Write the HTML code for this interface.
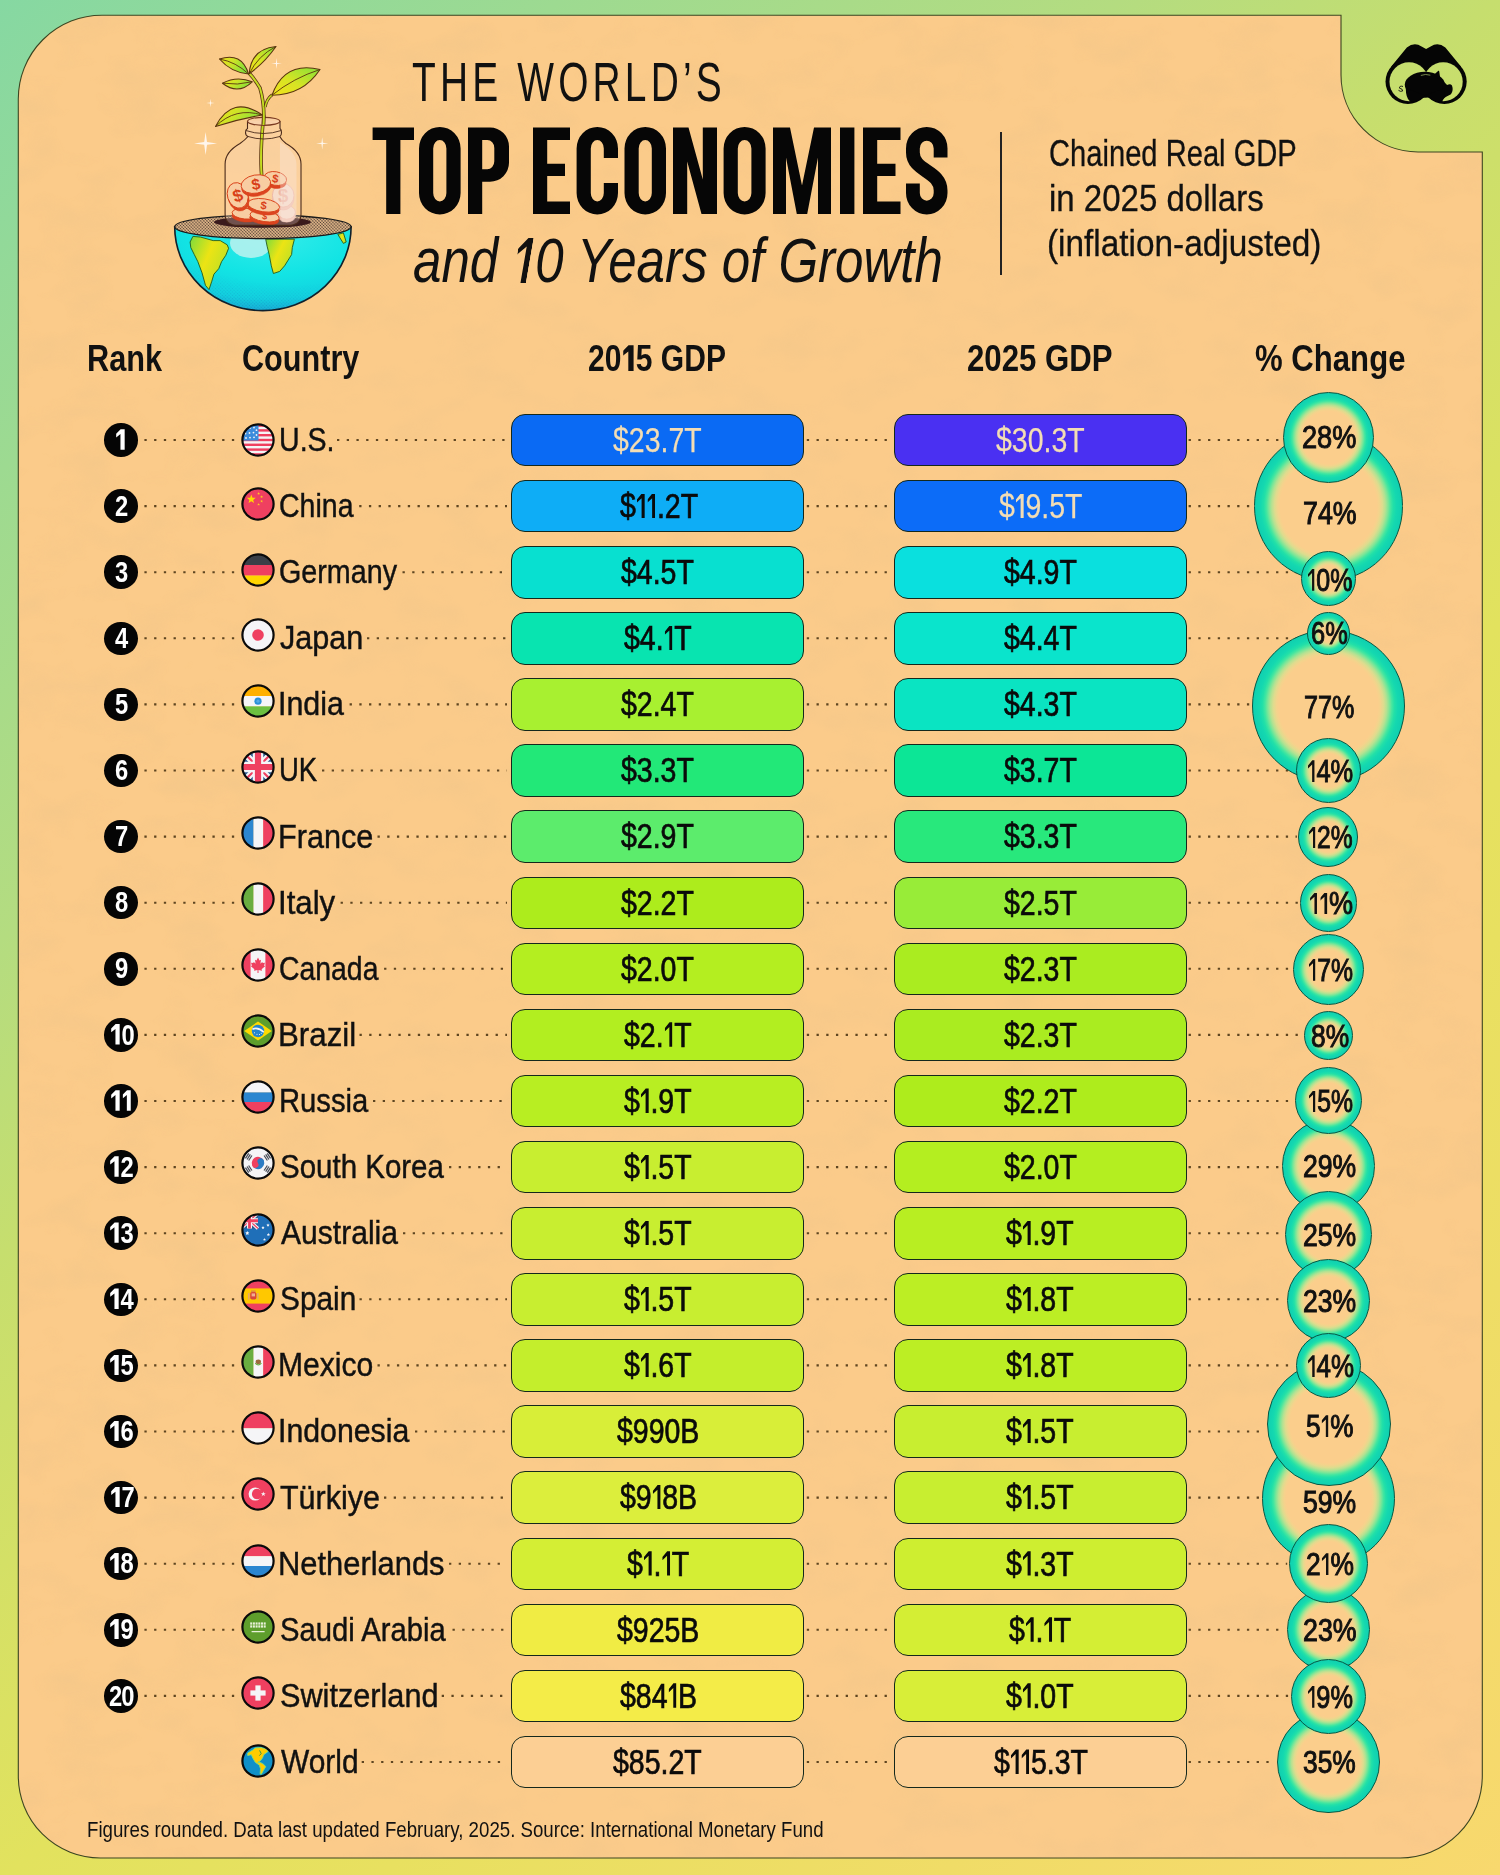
<!DOCTYPE html>
<html><head><meta charset="utf-8"><title>The World's Top Economies</title>
<style>
html,body{margin:0;padding:0;}
body{width:1500px;height:1875px;position:relative;overflow:hidden;font-family:"Liberation Sans", sans-serif;
background:linear-gradient(140deg,#86D8A2 0%,#B4DC80 30%,#C6DE6E 40%,#E2E25E 60%,#E8E060 70%,#F8D86E 100%);}
.t{position:absolute;white-space:nowrap;transform-origin:0 50%;}
.abs{position:absolute;}
.k,.kb{overflow:hidden;text-indent:-9em;font-style:normal;}
.k{display:inline-block;width:0.27em;height:0.715em;margin:0 0.06em 0 0.04em;background:currentColor;clip-path:polygon(62% 0,100% 0,100% 100%,60% 100%,60% 19%,0 37%,0 24%);}
.k.ki{transform:skewX(-12deg);transform-origin:0 100%;margin:0 0.19em 0 -0.01em;}
.kb{display:inline-block;width:0.36em;height:0.715em;margin:0 0.07em 0 0.05em;background:currentColor;clip-path:polygon(52% 0,100% 0,100% 100%,50% 100%,50% 24%,0 40%,0 22%);}
.bar{position:absolute;height:50.5px;width:291px;border:1.3px solid #14281c;border-radius:14px;box-sizing:content-box;}
.rk{position:absolute;width:33.6px;height:33.6px;border-radius:50%;background:#050505;}
.bub{position:absolute;border-radius:50%;border:1.3px solid #075844;box-sizing:border-box;
background:radial-gradient(circle closest-side,#FBCE8C 0%,#F8D08C 50%,#E4DA8C 60%,#A6E492 72%,#4EE49C 82%,#18DCB0 90%,#12D8B4 100%);}
</style></head><body>
<svg class="abs" style="left:0;top:0" width="1500" height="1875" viewBox="0 0 1500 1875">
<path d="M102 15.2 H1341 V75 A77 77 0 0 0 1418 152 H1482.3 V1776 A82 82 0 0 1 1400.3 1858 H100.3 A82 82 0 0 1 18.3 1776 V99 A83.7 83.8 0 0 1 102 15.2 Z" fill="#FBCB8A" stroke="#3a4420" stroke-width="1.1"/>
</svg>
<svg class="abs" style="left:0;top:0" width="1500" height="1875" viewBox="0 0 1500 1875">
<defs><filter id="pp" x="0" y="0" width="100%" height="100%"><feTurbulence type="fractalNoise" baseFrequency="0.018 0.03" numOctaves="3" seed="7"/><feColorMatrix type="matrix" values="0 0 0 0 0.72  0 0 0 0 0.5  0 0 0 0 0.25  0 0 0 1.6 -0.72"/></filter>
<clipPath id="pc"><path d="M102 15.2 H1341 V75 A77 77 0 0 0 1418 152 H1482.3 V1776 A82 82 0 0 1 1400.3 1858 H100.3 A82 82 0 0 1 18.3 1776 V99 A83.7 83.8 0 0 1 102 15.2 Z"/></clipPath></defs>
<rect x="0" y="0" width="1500" height="1875" filter="url(#pp)" clip-path="url(#pc)" opacity="0.22"/></svg>
<div class="abs" style="left:1000.3px;top:132px;width:1.6px;height:143px;background:#222"></div>
<svg class="abs" style="left:0;top:0" width="1500" height="1875" viewBox="0 0 1500 1875" fill="none" stroke="#5e4520" stroke-width="2.1" stroke-dasharray="2.3 7.42"><path d="M144.4 440.0 H236.0"/><path d="M337.0 440.0 H507.0"/><path d="M806.8 440.0 H891.0"/><path d="M1188.6 440.0 H1281.1"/><path d="M144.4 506.1 H236.0"/><path d="M359.2 506.1 H507.0"/><path d="M806.8 506.1 H891.0"/><path d="M1188.6 506.1 H1252.3"/><path d="M144.4 572.2 H236.0"/><path d="M402.5 572.2 H507.0"/><path d="M806.8 572.2 H891.0"/><path d="M1188.6 572.2 H1300.3"/><path d="M144.4 638.3 H236.0"/><path d="M367.0 638.3 H507.0"/><path d="M806.8 638.3 H891.0"/><path d="M1188.6 638.3 H1306.3"/><path d="M144.4 704.4 H236.0"/><path d="M349.6 704.4 H507.0"/><path d="M806.8 704.4 H891.0"/><path d="M1188.6 704.4 H1250.9"/><path d="M144.4 770.5 H236.0"/><path d="M322.0 770.5 H507.0"/><path d="M806.8 770.5 H891.0"/><path d="M1188.6 770.5 H1294.5"/><path d="M144.4 836.6 H236.0"/><path d="M377.5 836.6 H507.0"/><path d="M806.8 836.6 H891.0"/><path d="M1188.6 836.6 H1296.9"/><path d="M144.4 902.7 H236.0"/><path d="M340.6 902.7 H507.0"/><path d="M806.8 902.7 H891.0"/><path d="M1188.6 902.7 H1298.2"/><path d="M144.4 968.8 H236.0"/><path d="M384.1 968.8 H507.0"/><path d="M806.8 968.8 H891.0"/><path d="M1188.6 968.8 H1291.2"/><path d="M144.4 1034.9 H236.0"/><path d="M359.5 1034.9 H507.0"/><path d="M806.8 1034.9 H891.0"/><path d="M1188.6 1034.9 H1302.5"/><path d="M144.4 1101.0 H236.0"/><path d="M373.0 1101.0 H507.0"/><path d="M806.8 1101.0 H891.0"/><path d="M1188.6 1101.0 H1293.4"/><path d="M144.4 1167.1 H236.0"/><path d="M449.0 1167.1 H507.0"/><path d="M806.8 1167.1 H891.0"/><path d="M1188.6 1167.1 H1280.3"/><path d="M144.4 1233.2 H236.0"/><path d="M403.0 1233.2 H507.0"/><path d="M806.8 1233.2 H891.0"/><path d="M1188.6 1233.2 H1283.6"/><path d="M144.4 1299.3 H236.0"/><path d="M359.5 1299.3 H507.0"/><path d="M806.8 1299.3 H891.0"/><path d="M1188.6 1299.3 H1285.4"/><path d="M144.4 1365.4 H236.0"/><path d="M377.5 1365.4 H507.0"/><path d="M806.8 1365.4 H891.0"/><path d="M1188.6 1365.4 H1294.5"/><path d="M144.4 1431.5 H236.0"/><path d="M415.0 1431.5 H507.0"/><path d="M806.8 1431.5 H891.0"/><path d="M1188.6 1431.5 H1265.5"/><path d="M144.4 1497.6 H236.0"/><path d="M384.0 1497.6 H507.0"/><path d="M806.8 1497.6 H891.0"/><path d="M1188.6 1497.6 H1260.3"/><path d="M144.4 1563.7 H236.0"/><path d="M449.0 1563.7 H507.0"/><path d="M806.8 1563.7 H891.0"/><path d="M1188.6 1563.7 H1287.2"/><path d="M144.4 1629.8 H236.0"/><path d="M452.5 1629.8 H507.0"/><path d="M806.8 1629.8 H891.0"/><path d="M1188.6 1629.8 H1285.4"/><path d="M144.4 1695.9 H236.0"/><path d="M441.7 1695.9 H507.0"/><path d="M806.8 1695.9 H891.0"/><path d="M1188.6 1695.9 H1289.2"/><path d="M361.7 1762.0 H507.0"/><path d="M806.8 1762.0 H891.0"/><path d="M1188.6 1762.0 H1275.6"/></svg>
<div class="rk" style="left:104.4px;top:423.2px"></div>
<svg class="abs" style="left:240.8px;top:422.7px" width="34" height="34" viewBox="0 0 34 34"><defs><clipPath id="c0"><circle cx="17" cy="17" r="15.6"/></clipPath></defs><g clip-path="url(#c0)"><rect x="0" y="0" width="34" height="34" fill="#F5F5F7"/><rect x="0" y="1.4" width="34" height="2.4" fill="#EF4060"/><rect x="0" y="6.199999999999999" width="34" height="2.4" fill="#EF4060"/><rect x="0" y="11.0" width="34" height="2.4" fill="#EF4060"/><rect x="0" y="15.799999999999999" width="34" height="2.4" fill="#EF4060"/><rect x="0" y="20.599999999999998" width="34" height="2.4" fill="#EF4060"/><rect x="0" y="25.4" width="34" height="2.4" fill="#EF4060"/><rect x="0" y="30.199999999999996" width="34" height="2.4" fill="#EF4060"/><rect x="0" y="0" width="17.5" height="17.6" fill="#3C8CDC"/><circle cx="5" cy="6" r="0.9" fill="#F5F5F7"/><circle cx="9" cy="5" r="0.9" fill="#F5F5F7"/><circle cx="13" cy="4.6" r="0.9" fill="#F5F5F7"/><circle cx="4.5" cy="10.5" r="0.9" fill="#F5F5F7"/><circle cx="8.5" cy="10" r="0.9" fill="#F5F5F7"/><circle cx="12.5" cy="9.6" r="0.9" fill="#F5F5F7"/><circle cx="5" cy="15" r="0.9" fill="#F5F5F7"/><circle cx="9" cy="14.6" r="0.9" fill="#F5F5F7"/><circle cx="13" cy="14.3" r="0.9" fill="#F5F5F7"/><circle cx="15.5" cy="7.2" r="0.9" fill="#F5F5F7"/><circle cx="15.5" cy="12" r="0.9" fill="#F5F5F7"/></g><circle cx="17" cy="17" r="15.6" fill="none" stroke="#0a0a0a" stroke-width="2.2"/></svg>
<div class="bar" style="left:511px;top:413.8px;background:#0A6AF4"></div>
<div class="bar" style="left:893.5px;top:413.8px;background:#4A30F2"></div>
<div class="rk" style="left:104.4px;top:489.3px"></div>
<svg class="abs" style="left:240.8px;top:487.3px" width="34" height="34" viewBox="0 0 34 34"><defs><clipPath id="c1"><circle cx="17" cy="17" r="15.6"/></clipPath></defs><g clip-path="url(#c1)"><rect x="0" y="0" width="34" height="34" fill="#EF4060"/><polygon points="10.30,7.60 11.46,10.70 14.77,10.85 12.18,12.91 13.06,16.10 10.30,14.27 7.54,16.10 8.42,12.91 5.83,10.85 9.14,10.70" fill="#FFD800"/><polygon points="17.60,5.10 17.97,6.09 19.03,6.14 18.20,6.79 18.48,7.81 17.60,7.23 16.72,7.81 17.00,6.79 16.17,6.14 17.23,6.09" fill="#FFC820"/><polygon points="20.60,8.30 20.97,9.29 22.03,9.34 21.20,9.99 21.48,11.01 20.60,10.43 19.72,11.01 20.00,9.99 19.17,9.34 20.23,9.29" fill="#FFC820"/><polygon points="20.60,12.70 20.97,13.69 22.03,13.74 21.20,14.39 21.48,15.41 20.60,14.83 19.72,15.41 20.00,14.39 19.17,13.74 20.23,13.69" fill="#FFC820"/><polygon points="17.60,15.90 17.97,16.89 19.03,16.94 18.20,17.59 18.48,18.61 17.60,18.03 16.72,18.61 17.00,17.59 16.17,16.94 17.23,16.89" fill="#FFC820"/></g><circle cx="17" cy="17" r="15.6" fill="none" stroke="#0a0a0a" stroke-width="2.2"/></svg>
<div class="bar" style="left:511px;top:479.9px;background:#0EADF6"></div>
<div class="bar" style="left:893.5px;top:479.9px;background:#0C6CF8"></div>
<div class="rk" style="left:104.4px;top:555.4px"></div>
<svg class="abs" style="left:240.8px;top:552.7px" width="34" height="34" viewBox="0 0 34 34"><defs><clipPath id="c2"><circle cx="17" cy="17" r="15.6"/></clipPath></defs><g clip-path="url(#c2)"><rect x="0" y="0" width="34" height="12" fill="#3A3F47"/><rect x="0" y="12" width="34" height="10.6" fill="#EF4060"/><rect x="0" y="22.6" width="34" height="12" fill="#FFD500"/></g><circle cx="17" cy="17" r="15.6" fill="none" stroke="#0a0a0a" stroke-width="2.2"/></svg>
<div class="bar" style="left:511px;top:546.0px;background:#08E0D0"></div>
<div class="bar" style="left:893.5px;top:546.0px;background:#0AE0DE"></div>
<div class="rk" style="left:104.4px;top:621.5px"></div>
<svg class="abs" style="left:240.8px;top:618.0px" width="34" height="34" viewBox="0 0 34 34"><defs><clipPath id="c3"><circle cx="17" cy="17" r="15.6"/></clipPath></defs><g clip-path="url(#c3)"><rect x="0" y="0" width="34" height="34" fill="#F5F5F7"/><circle cx="17" cy="17" r="5.8" fill="#EF4060"/></g><circle cx="17" cy="17" r="15.6" fill="none" stroke="#0a0a0a" stroke-width="2.2"/></svg>
<div class="bar" style="left:511px;top:612.1px;background:#08E4B0"></div>
<div class="bar" style="left:893.5px;top:612.1px;background:#0AE4CC"></div>
<div class="rk" style="left:104.4px;top:687.6px"></div>
<svg class="abs" style="left:240.8px;top:684.0px" width="34" height="34" viewBox="0 0 34 34"><defs><clipPath id="c4"><circle cx="17" cy="17" r="15.6"/></clipPath></defs><g clip-path="url(#c4)"><rect x="0" y="0" width="34" height="12" fill="#FFB000"/><rect x="0" y="12" width="34" height="10.4" fill="#F5F5F7"/><rect x="0" y="22.4" width="34" height="12" fill="#6CC040"/><circle cx="17" cy="17.2" r="3.6" fill="#2890D8"/><circle cx="17" cy="17.2" r="1.6" fill="#55A8E4"/></g><circle cx="17" cy="17" r="15.6" fill="none" stroke="#0a0a0a" stroke-width="2.2"/></svg>
<div class="bar" style="left:511px;top:678.2px;background:#A8F030"></div>
<div class="bar" style="left:893.5px;top:678.2px;background:#0AE4C2"></div>
<div class="rk" style="left:104.4px;top:753.7px"></div>
<svg class="abs" style="left:240.8px;top:750.0px" width="34" height="34" viewBox="0 0 34 34"><defs><clipPath id="c5"><circle cx="17" cy="17" r="15.6"/></clipPath></defs><g clip-path="url(#c5)"><rect x="0" y="0" width="34" height="34" fill="#2C5C90"/><path d="M0 0L34 34M34 0L0 34" stroke="#F5F5F7" stroke-width="6.4"/><path d="M0 0L34 34M34 0L0 34" stroke="#EF4060" stroke-width="2.2"/><path d="M17 0V34M0 17H34" stroke="#F5F5F7" stroke-width="10.5"/><path d="M17 0V34M0 17H34" stroke="#EF4060" stroke-width="6.2"/></g><circle cx="17" cy="17" r="15.6" fill="none" stroke="#0a0a0a" stroke-width="2.2"/></svg>
<div class="bar" style="left:511px;top:744.3px;background:#22E878"></div>
<div class="bar" style="left:893.5px;top:744.3px;background:#0CE696"></div>
<div class="rk" style="left:104.4px;top:819.8px"></div>
<svg class="abs" style="left:240.8px;top:815.7px" width="34" height="34" viewBox="0 0 34 34"><defs><clipPath id="c6"><circle cx="17" cy="17" r="15.6"/></clipPath></defs><g clip-path="url(#c6)"><rect x="0" y="0" width="12.6" height="34" fill="#2B86D0"/><rect x="12.6" y="0" width="9.6" height="34" fill="#F5F5F7"/><rect x="22.2" y="0" width="12" height="34" fill="#EF4060"/></g><circle cx="17" cy="17" r="15.6" fill="none" stroke="#0a0a0a" stroke-width="2.2"/></svg>
<div class="bar" style="left:511px;top:810.4px;background:#5CEC6C"></div>
<div class="bar" style="left:893.5px;top:810.4px;background:#28E87C"></div>
<div class="rk" style="left:104.4px;top:885.9px"></div>
<svg class="abs" style="left:240.8px;top:881.6px" width="34" height="34" viewBox="0 0 34 34"><defs><clipPath id="c7"><circle cx="17" cy="17" r="15.6"/></clipPath></defs><g clip-path="url(#c7)"><rect x="0" y="0" width="12.6" height="34" fill="#6AAE40"/><rect x="12.6" y="0" width="9.6" height="34" fill="#F5F5F7"/><rect x="22.2" y="0" width="12" height="34" fill="#EF4060"/></g><circle cx="17" cy="17" r="15.6" fill="none" stroke="#0a0a0a" stroke-width="2.2"/></svg>
<div class="bar" style="left:511px;top:876.5px;background:#ADEC1C"></div>
<div class="bar" style="left:893.5px;top:876.5px;background:#98EC38"></div>
<div class="rk" style="left:104.4px;top:952.0px"></div>
<svg class="abs" style="left:240.8px;top:947.7px" width="34" height="34" viewBox="0 0 34 34"><defs><clipPath id="c8"><circle cx="17" cy="17" r="15.6"/></clipPath></defs><g clip-path="url(#c8)"><rect x="0" y="0" width="34" height="34" fill="#F5F5F7"/><rect x="0" y="0" width="9.6" height="34" fill="#EF4060"/><rect x="24.4" y="0" width="9.6" height="34" fill="#EF4060"/><path d="M17 9.6l1.5 2.9 1.5-.7-.6 4 1.8-1.9.6 1.2 2.2-.4-.9 2.9 1 .6-3.5 3 .5 1.5-3.6-.6V25h-1v-2.9l-3.6.6.5-1.5-3.5-3 1-.6-.9-2.9 2.2.4.6-1.2 1.8 1.9-.6-4 1.5.7z" fill="#EF4060"/></g><circle cx="17" cy="17" r="15.6" fill="none" stroke="#0a0a0a" stroke-width="2.2"/></svg>
<div class="bar" style="left:511px;top:942.6px;background:#B4EE20"></div>
<div class="bar" style="left:893.5px;top:942.6px;background:#AAEC20"></div>
<div class="rk" style="left:104.4px;top:1018.1px"></div>
<svg class="abs" style="left:240.8px;top:1013.7px" width="34" height="34" viewBox="0 0 34 34"><defs><clipPath id="c9"><circle cx="17" cy="17" r="15.6"/></clipPath></defs><g clip-path="url(#c9)"><rect x="0" y="0" width="34" height="34" fill="#5E9E2C"/><polygon points="3.2,17 17,7.6 30.8,17 17,26.4" fill="#FFDA00"/><circle cx="17" cy="17" r="6.2" fill="#2486CC"/><path d="M11.4 15.2Q17 12.6 22.8 18.2" stroke="#F5F5F7" stroke-width="1.5" fill="none"/><circle cx="13.5" cy="18.8" r="0.55" fill="#F5F5F7"/><circle cx="16" cy="20.2" r="0.55" fill="#F5F5F7"/><circle cx="18.5" cy="20.5" r="0.55" fill="#F5F5F7"/><circle cx="20.3" cy="19.3" r="0.55" fill="#F5F5F7"/></g><circle cx="17" cy="17" r="15.6" fill="none" stroke="#0a0a0a" stroke-width="2.2"/></svg>
<div class="bar" style="left:511px;top:1008.7px;background:#B2EE20"></div>
<div class="bar" style="left:893.5px;top:1008.7px;background:#AAEC20"></div>
<div class="rk" style="left:104.4px;top:1084.2px"></div>
<svg class="abs" style="left:240.8px;top:1079.7px" width="34" height="34" viewBox="0 0 34 34"><defs><clipPath id="c10"><circle cx="17" cy="17" r="15.6"/></clipPath></defs><g clip-path="url(#c10)"><rect x="0" y="0" width="34" height="12.4" fill="#F5F5F7"/><rect x="0" y="12.4" width="34" height="9.6" fill="#2B86D0"/><rect x="0" y="22" width="34" height="12" fill="#EF4060"/></g><circle cx="17" cy="17" r="15.6" fill="none" stroke="#0a0a0a" stroke-width="2.2"/></svg>
<div class="bar" style="left:511px;top:1074.8px;background:#B8EE22"></div>
<div class="bar" style="left:893.5px;top:1074.8px;background:#AEEC1C"></div>
<div class="rk" style="left:104.4px;top:1150.3px"></div>
<svg class="abs" style="left:240.8px;top:1145.7px" width="34" height="34" viewBox="0 0 34 34"><defs><clipPath id="c11"><circle cx="17" cy="17" r="15.6"/></clipPath></defs><g clip-path="url(#c11)"><rect x="0" y="0" width="34" height="34" fill="#F5F5F7"/><g transform="rotate(-33 17 17)"><path d="M10.8 17a6.2 6.2 0 0 1 12.4 0z" fill="#EF4060"/><path d="M10.8 17a6.2 6.2 0 0 0 12.4 0z" fill="#2C7CC4"/><circle cx="13.9" cy="17" r="3.1" fill="#EF4060"/><circle cx="20.1" cy="17" r="3.1" fill="#2C7CC4"/></g><g transform="rotate(33 17 17)"><path d="M26.2 14V20M28.1 14V20M30 14V20" stroke="#4A4E58" stroke-width="1.25"/></g><g transform="rotate(147 17 17)"><path d="M26.2 14V20M28.1 14V20M30 14V20" stroke="#4A4E58" stroke-width="1.25"/></g><g transform="rotate(213 17 17)"><path d="M26.2 14V20M28.1 14V20M30 14V20" stroke="#4A4E58" stroke-width="1.25"/></g><g transform="rotate(327 17 17)"><path d="M26.2 14V20M28.1 14V20M30 14V20" stroke="#4A4E58" stroke-width="1.25"/></g></g><circle cx="17" cy="17" r="15.6" fill="none" stroke="#0a0a0a" stroke-width="2.2"/></svg>
<div class="bar" style="left:511px;top:1140.9px;background:#C8EE30"></div>
<div class="bar" style="left:893.5px;top:1140.9px;background:#B4EE20"></div>
<div class="rk" style="left:104.4px;top:1216.4px"></div>
<svg class="abs" style="left:240.8px;top:1212.7px" width="34" height="34" viewBox="0 0 34 34"><defs><clipPath id="c12"><circle cx="17" cy="17" r="15.6"/></clipPath></defs><g clip-path="url(#c12)"><rect x="0" y="0" width="34" height="34" fill="#1F6FB8"/><g><rect x="0" y="0" width="17" height="15.5" fill="#2C5C90"/><path d="M0 0L17 15.5M17 0L0 15.5" stroke="#F5F5F7" stroke-width="3.4"/><path d="M0 0L17 15.5M17 0L0 15.5" stroke="#EF4060" stroke-width="1.2"/><path d="M8.5 0V15.5M0 7.75H17" stroke="#F5F5F7" stroke-width="5"/><path d="M8.5 0V15.5M0 7.75H17" stroke="#EF4060" stroke-width="2.8"/></g><polygon points="6.30,18.10 6.92,19.35 8.30,19.55 7.30,20.52 7.53,21.90 6.30,21.25 5.07,21.90 5.30,20.52 4.30,19.55 5.68,19.35" fill="#F5F5F7"/><polygon points="22.00,12.90 22.50,13.91 23.62,14.07 22.81,14.86 23.00,15.98 22.00,15.45 21.00,15.98 21.19,14.86 20.38,14.07 21.50,13.91" fill="#F5F5F7"/><polygon points="27.00,10.50 27.50,11.51 28.62,11.67 27.81,12.46 28.00,13.58 27.00,13.05 26.00,13.58 26.19,12.46 25.38,11.67 26.50,11.51" fill="#F5F5F7"/><polygon points="27.40,19.90 27.90,20.91 29.02,21.07 28.21,21.86 28.40,22.98 27.40,22.45 26.40,22.98 26.59,21.86 25.78,21.07 26.90,20.91" fill="#F5F5F7"/><polygon points="23.50,25.00 23.94,25.89 24.93,26.04 24.21,26.73 24.38,27.71 23.50,27.25 22.62,27.71 22.79,26.73 22.07,26.04 23.06,25.89" fill="#F5F5F7"/></g><circle cx="17" cy="17" r="15.6" fill="none" stroke="#0a0a0a" stroke-width="2.2"/></svg>
<div class="bar" style="left:511px;top:1207.0px;background:#C8EE30"></div>
<div class="bar" style="left:893.5px;top:1207.0px;background:#B8EE22"></div>
<div class="rk" style="left:104.4px;top:1282.5px"></div>
<svg class="abs" style="left:240.8px;top:1278.9px" width="34" height="34" viewBox="0 0 34 34"><defs><clipPath id="c13"><circle cx="17" cy="17" r="15.6"/></clipPath></defs><g clip-path="url(#c13)"><rect x="0" y="0" width="34" height="34" fill="#FFC800"/><rect x="0" y="0" width="34" height="9.4" fill="#EF4060"/><rect x="0" y="24.6" width="34" height="10" fill="#EF4060"/><rect x="9.2" y="13" width="6.2" height="7.6" rx="1.8" fill="#D8443C"/><rect x="10.6" y="14.4" width="3.4" height="3" fill="#F0B090"/><rect x="7" y="14" width="1.5" height="6.6" fill="#E8A868"/><rect x="16.1" y="14" width="1.5" height="6.6" fill="#E8A868"/><rect x="10" y="11.4" width="4.6" height="1.7" fill="#E0903C"/></g><circle cx="17" cy="17" r="15.6" fill="none" stroke="#0a0a0a" stroke-width="2.2"/></svg>
<div class="bar" style="left:511px;top:1273.1px;background:#C8EE30"></div>
<div class="bar" style="left:893.5px;top:1273.1px;background:#BCEE24"></div>
<div class="rk" style="left:104.4px;top:1348.6px"></div>
<svg class="abs" style="left:240.8px;top:1345.0px" width="34" height="34" viewBox="0 0 34 34"><defs><clipPath id="c14"><circle cx="17" cy="17" r="15.6"/></clipPath></defs><g clip-path="url(#c14)"><rect x="0" y="0" width="12.6" height="34" fill="#6AAE40"/><rect x="12.6" y="0" width="9.6" height="34" fill="#F5F5F7"/><rect x="22.2" y="0" width="12" height="34" fill="#EF4060"/><ellipse cx="17.3" cy="16.8" rx="2.7" ry="2.3" fill="#9A6A3C"/><path d="M14.2 18.2Q17.3 21.6 20.4 18.2" stroke="#6AAE40" stroke-width="1.1" fill="none"/></g><circle cx="17" cy="17" r="15.6" fill="none" stroke="#0a0a0a" stroke-width="2.2"/></svg>
<div class="bar" style="left:511px;top:1339.2px;background:#C4EE2C"></div>
<div class="bar" style="left:893.5px;top:1339.2px;background:#BCEE24"></div>
<div class="rk" style="left:104.4px;top:1414.7px"></div>
<svg class="abs" style="left:240.8px;top:1411.0px" width="34" height="34" viewBox="0 0 34 34"><defs><clipPath id="c15"><circle cx="17" cy="17" r="15.6"/></clipPath></defs><g clip-path="url(#c15)"><rect x="0" y="0" width="34" height="17.3" fill="#EF4060"/><rect x="0" y="17.3" width="34" height="17" fill="#F5F5F7"/></g><circle cx="17" cy="17" r="15.6" fill="none" stroke="#0a0a0a" stroke-width="2.2"/></svg>
<div class="bar" style="left:511px;top:1405.3px;background:#D8EE38"></div>
<div class="bar" style="left:893.5px;top:1405.3px;background:#C8EE30"></div>
<div class="rk" style="left:104.4px;top:1480.8px"></div>
<svg class="abs" style="left:240.8px;top:1477.4px" width="34" height="34" viewBox="0 0 34 34"><defs><clipPath id="c16"><circle cx="17" cy="17" r="15.6"/></clipPath></defs><g clip-path="url(#c16)"><rect x="0" y="0" width="34" height="34" fill="#EF4060"/><circle cx="14.2" cy="17" r="6.6" fill="#F5F5F7"/><circle cx="16.2" cy="17" r="5.3" fill="#EF4060"/><polygon points="24.77,16.20 23.30,17.32 23.83,19.10 22.30,18.05 20.77,19.10 21.30,17.32 19.83,16.20 21.68,16.15 22.30,14.40 22.92,16.15" fill="#F5F5F7"/></g><circle cx="17" cy="17" r="15.6" fill="none" stroke="#0a0a0a" stroke-width="2.2"/></svg>
<div class="bar" style="left:511px;top:1471.4px;background:#DCEE3C"></div>
<div class="bar" style="left:893.5px;top:1471.4px;background:#C8EE30"></div>
<div class="rk" style="left:104.4px;top:1546.9px"></div>
<svg class="abs" style="left:240.8px;top:1544.3px" width="34" height="34" viewBox="0 0 34 34"><defs><clipPath id="c17"><circle cx="17" cy="17" r="15.6"/></clipPath></defs><g clip-path="url(#c17)"><rect x="0" y="0" width="34" height="12.2" fill="#EF4060"/><rect x="0" y="12.2" width="34" height="9.8" fill="#F5F5F7"/><rect x="0" y="22" width="34" height="12" fill="#2B86D0"/></g><circle cx="17" cy="17" r="15.6" fill="none" stroke="#0a0a0a" stroke-width="2.2"/></svg>
<div class="bar" style="left:511px;top:1537.5px;background:#D4EE34"></div>
<div class="bar" style="left:893.5px;top:1537.5px;background:#CEEE30"></div>
<div class="rk" style="left:104.4px;top:1613.0px"></div>
<svg class="abs" style="left:240.8px;top:1609.8px" width="34" height="34" viewBox="0 0 34 34"><defs><clipPath id="c18"><circle cx="17" cy="17" r="15.6"/></clipPath></defs><g clip-path="url(#c18)"><rect x="0" y="0" width="34" height="34" fill="#5E9E2C"/><rect x="9.2" y="12.4" width="2.0" height="5.2" fill="#E8F0D8"/><rect x="11.899999999999999" y="12.4" width="2.0" height="5.2" fill="#E8F0D8"/><rect x="14.6" y="12.4" width="2.0" height="5.2" fill="#E8F0D8"/><rect x="17.3" y="12.4" width="2.0" height="5.2" fill="#E8F0D8"/><rect x="20.0" y="12.4" width="2.0" height="5.2" fill="#E8F0D8"/><rect x="22.7" y="12.4" width="2.0" height="5.2" fill="#E8F0D8"/><path d="M9 15H25.6" stroke="#5E9E2C" stroke-width="0.7"/><path d="M10.6 21.6H23.6" stroke="#E8F0D8" stroke-width="1.4"/></g><circle cx="17" cy="17" r="15.6" fill="none" stroke="#0a0a0a" stroke-width="2.2"/></svg>
<div class="bar" style="left:511px;top:1603.6px;background:#F0EC44"></div>
<div class="bar" style="left:893.5px;top:1603.6px;background:#D4EE34"></div>
<div class="rk" style="left:104.4px;top:1679.1px"></div>
<svg class="abs" style="left:240.8px;top:1676.3px" width="34" height="34" viewBox="0 0 34 34"><defs><clipPath id="c19"><circle cx="17" cy="17" r="15.6"/></clipPath></defs><g clip-path="url(#c19)"><rect x="0" y="0" width="34" height="34" fill="#EF4060"/><rect x="14.4" y="9.4" width="5.2" height="15.2" fill="#F5F5F7"/><rect x="9.4" y="14.4" width="15.2" height="5.2" fill="#F5F5F7"/></g><circle cx="17" cy="17" r="15.6" fill="none" stroke="#0a0a0a" stroke-width="2.2"/></svg>
<div class="bar" style="left:511px;top:1669.7px;background:#F4EC48"></div>
<div class="bar" style="left:893.5px;top:1669.7px;background:#D8EE38"></div>
<svg class="abs" style="left:240.8px;top:1743.5px" width="34" height="34" viewBox="0 0 34 34"><defs><clipPath id="c20"><circle cx="17" cy="17" r="15.6"/></clipPath></defs><g clip-path="url(#c20)"><rect x="0" y="0" width="34" height="34" fill="#1090C8"/><polygon points="6.7,9.1 11.9,5.9 14.3,3.9 19.9,3.5 25.5,5.1 27.1,7.5 22.7,10.7 21.5,13.9 19.1,17.1 16.7,18.3 19.9,18.7 23.1,20.7 24.7,22.7 22.3,26.7 20.3,30.3 19.1,29.9 19.5,24.7 18.3,21.1 14.3,18.3 11.9,14.3 10.3,10.7 6.7,11.5" fill="#FFCC00" stroke="#7CE080" stroke-width="0.9" stroke-linejoin="round"/><path d="M18.6 6.4l1.6 3.2-1.8 2" stroke="#3C9A4C" stroke-width="1" fill="none"/></g><circle cx="17" cy="17" r="15.6" fill="none" stroke="#0a0a0a" stroke-width="2.2"/></svg>
<div class="bar" style="left:511px;top:1735.8px;background:#FCCF94"></div>
<div class="bar" style="left:893.5px;top:1735.8px;background:#FCCF94"></div>
<div class="bub" style="left:1252.3px;top:629.8px;width:152.3px;height:152.3px;background:radial-gradient(circle closest-side,#FBCE8C 0%,#FBCE8C 66.0%,#F4D38C 69.4%,#DEDC8E 73.5%,#B4E292 77.6%,#7CE698 81.3%,#44E6A0 84.7%,#22E0A8 88.1%,#14D8B0 92.5%,#10D0B0 100%)"></div>
<div class="bub" style="left:1253.8px;top:431.3px;width:149.3px;height:149.3px;background:radial-gradient(circle closest-side,#FBCE8C 0%,#FBCE8C 65.8%,#F4D38C 69.2%,#DEDC8E 73.3%,#B4E292 77.4%,#7CE698 81.2%,#44E6A0 84.6%,#22E0A8 88.0%,#14D8B0 92.5%,#10D0B0 100%)"></div>
<div class="bub" style="left:1261.8px;top:1431.8px;width:133.3px;height:133.3px;background:radial-gradient(circle closest-side,#FBCE8C 0%,#FBCE8C 64.5%,#F4D38C 68.1%,#DEDC8E 72.3%,#B4E292 76.6%,#7CE698 80.5%,#44E6A0 84.0%,#22E0A8 87.6%,#14D8B0 92.2%,#10D0B0 100%)"></div>
<div class="bub" style="left:1266.5px;top:1362.0px;width:124.0px;height:124.0px;background:radial-gradient(circle closest-side,#FBCE8C 0%,#FBCE8C 63.6%,#F4D38C 67.2%,#DEDC8E 71.6%,#B4E292 76.0%,#7CE698 80.0%,#44E6A0 83.6%,#22E0A8 87.3%,#14D8B0 92.0%,#10D0B0 100%)"></div>
<div class="bub" style="left:1277.1px;top:1710.6px;width:102.7px;height:102.7px;background:radial-gradient(circle closest-side,#FBCE8C 0%,#FBCE8C 60.9%,#F4D38C 64.8%,#DEDC8E 69.5%,#B4E292 74.2%,#7CE698 78.5%,#44E6A0 82.4%,#22E0A8 86.3%,#14D8B0 91.4%,#10D0B0 100%)"></div>
<div class="bub" style="left:1281.8px;top:1119.3px;width:93.5px;height:93.5px;background:radial-gradient(circle closest-side,#FBCE8C 0%,#FBCE8C 59.4%,#F4D38C 63.4%,#DEDC8E 68.3%,#B4E292 73.2%,#7CE698 77.7%,#44E6A0 81.7%,#22E0A8 85.8%,#14D8B0 91.1%,#10D0B0 100%)"></div>
<div class="bub" style="left:1282.6px;top:391.6px;width:91.9px;height:91.9px;background:radial-gradient(circle closest-side,#FBCE8C 0%,#FBCE8C 59.1%,#F4D38C 63.2%,#DEDC8E 68.1%,#B4E292 73.0%,#7CE698 77.5%,#44E6A0 81.6%,#22E0A8 85.7%,#14D8B0 91.0%,#10D0B0 100%)"></div>
<div class="bub" style="left:1285.1px;top:1190.8px;width:86.8px;height:86.8px;background:radial-gradient(circle closest-side,#FBCE8C 0%,#FBCE8C 58.1%,#F4D38C 62.3%,#DEDC8E 67.3%,#B4E292 72.3%,#7CE698 76.9%,#44E6A0 81.1%,#22E0A8 85.3%,#14D8B0 90.8%,#10D0B0 100%)"></div>
<div class="bub" style="left:1286.9px;top:1258.6px;width:83.3px;height:83.3px;background:radial-gradient(circle closest-side,#FBCE8C 0%,#FBCE8C 57.3%,#F4D38C 61.6%,#DEDC8E 66.7%,#B4E292 71.8%,#7CE698 76.5%,#44E6A0 80.8%,#22E0A8 85.0%,#14D8B0 90.6%,#10D0B0 100%)"></div>
<div class="bub" style="left:1286.9px;top:1587.9px;width:83.3px;height:83.3px;background:radial-gradient(circle closest-side,#FBCE8C 0%,#FBCE8C 57.3%,#F4D38C 61.6%,#DEDC8E 66.7%,#B4E292 71.8%,#7CE698 76.5%,#44E6A0 80.8%,#22E0A8 85.0%,#14D8B0 90.6%,#10D0B0 100%)"></div>
<div class="bub" style="left:1288.7px;top:1523.7px;width:79.6px;height:79.6px;background:radial-gradient(circle closest-side,#FBCE8C 0%,#FBCE8C 56.4%,#F4D38C 60.7%,#DEDC8E 66.0%,#B4E292 71.2%,#7CE698 76.0%,#44E6A0 80.4%,#22E0A8 84.7%,#14D8B0 90.4%,#10D0B0 100%)"></div>
<div class="bub" style="left:1290.7px;top:1658.5px;width:75.7px;height:75.7px;background:radial-gradient(circle closest-side,#FBCE8C 0%,#FBCE8C 55.4%,#F4D38C 59.8%,#DEDC8E 65.2%,#B4E292 70.5%,#7CE698 75.4%,#44E6A0 79.9%,#22E0A8 84.4%,#14D8B0 90.2%,#10D0B0 100%)"></div>
<div class="bub" style="left:1292.7px;top:933.6px;width:71.6px;height:71.6px;background:radial-gradient(circle closest-side,#FBCE8C 0%,#FBCE8C 54.1%,#F4D38C 58.7%,#DEDC8E 64.2%,#B4E292 69.7%,#7CE698 74.8%,#44E6A0 79.4%,#22E0A8 84.0%,#14D8B0 89.9%,#10D0B0 100%)"></div>
<div class="bub" style="left:1294.9px;top:1067.3px;width:67.2px;height:67.2px;background:radial-gradient(circle closest-side,#FBCE8C 0%,#FBCE8C 52.7%,#F4D38C 57.4%,#DEDC8E 63.1%,#B4E292 68.8%,#7CE698 74.0%,#44E6A0 78.7%,#22E0A8 83.4%,#14D8B0 89.6%,#10D0B0 100%)"></div>
<div class="bub" style="left:1296.0px;top:738.2px;width:65.0px;height:65.0px;background:radial-gradient(circle closest-side,#FBCE8C 0%,#FBCE8C 51.9%,#F4D38C 56.7%,#DEDC8E 62.5%,#B4E292 68.2%,#7CE698 73.5%,#44E6A0 78.3%,#22E0A8 83.2%,#14D8B0 89.4%,#10D0B0 100%)"></div>
<div class="bub" style="left:1296.0px;top:1333.2px;width:65.0px;height:65.0px;background:radial-gradient(circle closest-side,#FBCE8C 0%,#FBCE8C 51.9%,#F4D38C 56.7%,#DEDC8E 62.5%,#B4E292 68.2%,#7CE698 73.5%,#44E6A0 78.3%,#22E0A8 83.2%,#14D8B0 89.4%,#10D0B0 100%)"></div>
<div class="bub" style="left:1298.4px;top:806.8px;width:60.1px;height:60.1px;background:radial-gradient(circle closest-side,#FBCE8C 0%,#FBCE8C 49.9%,#F4D38C 54.9%,#DEDC8E 60.9%,#B4E292 66.9%,#7CE698 72.4%,#44E6A0 77.5%,#22E0A8 82.5%,#14D8B0 89.0%,#10D0B0 100%)"></div>
<div class="bub" style="left:1299.7px;top:874.2px;width:57.6px;height:57.6px;background:radial-gradient(circle closest-side,#FBCE8C 0%,#FBCE8C 48.7%,#F4D38C 53.8%,#DEDC8E 60.0%,#B4E292 66.1%,#7CE698 71.8%,#44E6A0 76.9%,#22E0A8 82.0%,#14D8B0 88.7%,#10D0B0 100%)"></div>
<div class="bub" style="left:1301.1px;top:551.3px;width:54.9px;height:54.9px;background:radial-gradient(circle closest-side,#FBCE8C 0%,#FBCE8C 47.4%,#F4D38C 52.6%,#DEDC8E 58.9%,#B4E292 65.3%,#7CE698 71.0%,#44E6A0 76.3%,#22E0A8 81.6%,#14D8B0 88.4%,#10D0B0 100%)"></div>
<div class="bub" style="left:1303.9px;top:1010.6px;width:49.1px;height:49.1px;background:radial-gradient(circle closest-side,#FBCE8C 0%,#FBCE8C 43.9%,#F4D38C 49.5%,#DEDC8E 56.3%,#B4E292 63.0%,#7CE698 69.2%,#44E6A0 74.8%,#22E0A8 80.4%,#14D8B0 87.7%,#10D0B0 100%)"></div>
<div class="bub" style="left:1307.2px;top:612.1px;width:42.5px;height:42.5px;background:radial-gradient(circle closest-side,#FBCE8C 0%,#FBCE8C 38.9%,#F4D38C 45.0%,#DEDC8E 52.3%,#B4E292 59.7%,#7CE698 66.4%,#44E6A0 72.5%,#22E0A8 78.6%,#14D8B0 86.6%,#10D0B0 100%)"></div>
<span class="t " style="left:411.69px;top:53.95px;font-size:55.81px;line-height:55.81px;transform:scaleX(0.6968);color:#111;letter-spacing:6px;">THE WORLD’S</span>
<span class="t " style="left:413.10px;top:229.45px;font-size:62.79px;line-height:62.79px;transform:scaleX(0.8130);color:#111;font-style:italic;">and <i class="k ki">1</i>0 Years of Growth</span>
<span class="t " style="left:1049.33px;top:135.92px;font-size:36.48px;line-height:36.48px;transform:scaleX(0.7990);color:#111;-webkit-text-stroke:0.3px #111;">Chained Real GDP</span>
<span class="t " style="left:1049.14px;top:181.02px;font-size:36.48px;line-height:36.48px;transform:scaleX(0.9052);color:#111;-webkit-text-stroke:0.3px #111;">in 2025 dollars</span>
<span class="t " style="left:1046.74px;top:226.02px;font-size:36.48px;line-height:36.48px;transform:scaleX(0.9146);color:#111;-webkit-text-stroke:0.3px #111;">(inflation-adjusted)</span>
<span class="t " style="left:86.78px;top:341.49px;font-size:36.63px;line-height:36.63px;transform:scaleX(0.8376);color:#111;font-weight:bold;">Rank</span>
<span class="t " style="left:241.74px;top:341.49px;font-size:36.63px;line-height:36.63px;transform:scaleX(0.8359);color:#111;font-weight:bold;">Country</span>
<span class="t " style="left:588.46px;top:341.49px;font-size:36.63px;line-height:36.63px;transform:scaleX(0.8198);color:#111;font-weight:bold;">20<i class="kb">1</i>5 GDP</span>
<span class="t " style="left:966.83px;top:341.49px;font-size:36.63px;line-height:36.63px;transform:scaleX(0.8513);color:#111;font-weight:bold;">2025 GDP</span>
<span class="t " style="left:1254.51px;top:341.49px;font-size:36.63px;line-height:36.63px;transform:scaleX(0.8498);color:#111;font-weight:bold;">% Change</span>
<span class="t " style="left:114.54px;top:425.66px;font-size:28.63px;line-height:28.63px;transform:scaleX(0.8300);color:#fff;font-weight:bold;"><i class="kb">1</i></span>
<span class="t " style="left:279.01px;top:421.91px;font-size:34.01px;line-height:34.01px;transform:scaleX(0.8400);color:#111;-webkit-text-stroke:0.45px #111;">U.S.</span>
<span class="t v" style="left:613.40px;top:422.89px;font-size:34.16px;line-height:34.16px;transform:scaleX(0.8340);color:#F3DDB4;-webkit-text-stroke:0.25px #F3DDB4;">$23.7T</span>
<span class="t v" style="left:995.90px;top:422.89px;font-size:34.16px;line-height:34.16px;transform:scaleX(0.8340);color:#F3DDB4;-webkit-text-stroke:0.25px #F3DDB4;">$30.3T</span>
<span class="t " style="left:114.52px;top:491.76px;font-size:28.63px;line-height:28.63px;transform:scaleX(0.8300);color:#fff;font-weight:bold;">2</span>
<span class="t " style="left:279.46px;top:488.01px;font-size:34.01px;line-height:34.01px;transform:scaleX(0.8390);color:#111;-webkit-text-stroke:0.45px #111;">China</span>
<span class="t v" style="left:619.76px;top:488.99px;font-size:34.16px;line-height:34.16px;transform:scaleX(0.8340);color:#0a0a0a;-webkit-text-stroke:0.7px #0a0a0a;">$<i class="k">1</i><i class="k">1</i>.2T</span>
<span class="t v" style="left:998.55px;top:488.99px;font-size:34.16px;line-height:34.16px;transform:scaleX(0.8340);color:#F3DDB4;-webkit-text-stroke:0.25px #F3DDB4;">$<i class="k">1</i>9.5T</span>
<span class="t " style="left:114.70px;top:557.86px;font-size:28.63px;line-height:28.63px;transform:scaleX(0.8300);color:#fff;font-weight:bold;">3</span>
<span class="t " style="left:279.45px;top:554.11px;font-size:34.01px;line-height:34.01px;transform:scaleX(0.8440);color:#111;-webkit-text-stroke:0.45px #111;">Germany</span>
<span class="t v" style="left:621.32px;top:555.09px;font-size:34.16px;line-height:34.16px;transform:scaleX(0.8340);color:#0a0a0a;-webkit-text-stroke:0.7px #0a0a0a;">$4.5T</span>
<span class="t v" style="left:1003.82px;top:555.09px;font-size:34.16px;line-height:34.16px;transform:scaleX(0.8340);color:#0a0a0a;-webkit-text-stroke:0.7px #0a0a0a;">$4.9T</span>
<span class="t " style="left:114.52px;top:623.96px;font-size:28.63px;line-height:28.63px;transform:scaleX(0.8300);color:#fff;font-weight:bold;">4</span>
<span class="t " style="left:280.32px;top:620.21px;font-size:34.01px;line-height:34.01px;transform:scaleX(0.8999);color:#111;-webkit-text-stroke:0.45px #111;">Japan</span>
<span class="t v" style="left:623.97px;top:621.19px;font-size:34.16px;line-height:34.16px;transform:scaleX(0.8340);color:#0a0a0a;-webkit-text-stroke:0.7px #0a0a0a;">$4.<i class="k">1</i>T</span>
<span class="t v" style="left:1003.82px;top:621.19px;font-size:34.16px;line-height:34.16px;transform:scaleX(0.8340);color:#0a0a0a;-webkit-text-stroke:0.7px #0a0a0a;">$4.4T</span>
<span class="t " style="left:114.70px;top:690.06px;font-size:28.63px;line-height:28.63px;transform:scaleX(0.8300);color:#fff;font-weight:bold;">5</span>
<span class="t " style="left:278.42px;top:686.31px;font-size:34.01px;line-height:34.01px;transform:scaleX(0.8947);color:#111;-webkit-text-stroke:0.45px #111;">India</span>
<span class="t v" style="left:621.32px;top:687.29px;font-size:34.16px;line-height:34.16px;transform:scaleX(0.8340);color:#0a0a0a;-webkit-text-stroke:0.7px #0a0a0a;">$2.4T</span>
<span class="t v" style="left:1003.82px;top:687.29px;font-size:34.16px;line-height:34.16px;transform:scaleX(0.8340);color:#0a0a0a;-webkit-text-stroke:0.7px #0a0a0a;">$4.3T</span>
<span class="t " style="left:114.52px;top:756.16px;font-size:28.63px;line-height:28.63px;transform:scaleX(0.8300);color:#fff;font-weight:bold;">6</span>
<span class="t " style="left:279.08px;top:752.41px;font-size:34.01px;line-height:34.01px;transform:scaleX(0.8088);color:#111;-webkit-text-stroke:0.45px #111;">UK</span>
<span class="t v" style="left:621.32px;top:753.39px;font-size:34.16px;line-height:34.16px;transform:scaleX(0.8340);color:#0a0a0a;-webkit-text-stroke:0.7px #0a0a0a;">$3.3T</span>
<span class="t v" style="left:1003.82px;top:753.39px;font-size:34.16px;line-height:34.16px;transform:scaleX(0.8340);color:#0a0a0a;-webkit-text-stroke:0.7px #0a0a0a;">$3.7T</span>
<span class="t " style="left:114.70px;top:822.26px;font-size:28.63px;line-height:28.63px;transform:scaleX(0.8300);color:#fff;font-weight:bold;">7</span>
<span class="t " style="left:278.41px;top:818.51px;font-size:34.01px;line-height:34.01px;transform:scaleX(0.9006);color:#111;-webkit-text-stroke:0.45px #111;">France</span>
<span class="t v" style="left:621.32px;top:819.49px;font-size:34.16px;line-height:34.16px;transform:scaleX(0.8340);color:#0a0a0a;-webkit-text-stroke:0.7px #0a0a0a;">$2.9T</span>
<span class="t v" style="left:1003.82px;top:819.49px;font-size:34.16px;line-height:34.16px;transform:scaleX(0.8340);color:#0a0a0a;-webkit-text-stroke:0.7px #0a0a0a;">$3.3T</span>
<span class="t " style="left:114.52px;top:888.36px;font-size:28.63px;line-height:28.63px;transform:scaleX(0.8300);color:#fff;font-weight:bold;">8</span>
<span class="t " style="left:278.36px;top:884.61px;font-size:34.01px;line-height:34.01px;transform:scaleX(0.9176);color:#111;-webkit-text-stroke:0.45px #111;">Italy</span>
<span class="t v" style="left:621.32px;top:885.59px;font-size:34.16px;line-height:34.16px;transform:scaleX(0.8340);color:#0a0a0a;-webkit-text-stroke:0.7px #0a0a0a;">$2.2T</span>
<span class="t v" style="left:1003.82px;top:885.59px;font-size:34.16px;line-height:34.16px;transform:scaleX(0.8340);color:#0a0a0a;-webkit-text-stroke:0.7px #0a0a0a;">$2.5T</span>
<span class="t " style="left:114.52px;top:954.46px;font-size:28.63px;line-height:28.63px;transform:scaleX(0.8300);color:#fff;font-weight:bold;">9</span>
<span class="t " style="left:279.47px;top:950.71px;font-size:34.01px;line-height:34.01px;transform:scaleX(0.8347);color:#111;-webkit-text-stroke:0.45px #111;">Canada</span>
<span class="t v" style="left:621.32px;top:951.69px;font-size:34.16px;line-height:34.16px;transform:scaleX(0.8340);color:#0a0a0a;-webkit-text-stroke:0.7px #0a0a0a;">$2.0T</span>
<span class="t v" style="left:1003.82px;top:951.69px;font-size:34.16px;line-height:34.16px;transform:scaleX(0.8340);color:#0a0a0a;-webkit-text-stroke:0.7px #0a0a0a;">$2.3T</span>
<span class="t " style="left:109.50px;top:1020.56px;font-size:28.63px;line-height:28.63px;transform:scaleX(0.8300);color:#fff;font-weight:bold;letter-spacing:-1.2px;"><i class="kb">1</i>0</span>
<span class="t " style="left:278.36px;top:1016.81px;font-size:34.01px;line-height:34.01px;transform:scaleX(0.9196);color:#111;-webkit-text-stroke:0.45px #111;">Brazil</span>
<span class="t v" style="left:623.97px;top:1017.79px;font-size:34.16px;line-height:34.16px;transform:scaleX(0.8340);color:#0a0a0a;-webkit-text-stroke:0.7px #0a0a0a;">$2.<i class="k">1</i>T</span>
<span class="t v" style="left:1003.82px;top:1017.79px;font-size:34.16px;line-height:34.16px;transform:scaleX(0.8340);color:#0a0a0a;-webkit-text-stroke:0.7px #0a0a0a;">$2.3T</span>
<span class="t " style="left:109.98px;top:1086.66px;font-size:28.63px;line-height:28.63px;transform:scaleX(0.8300);color:#fff;font-weight:bold;letter-spacing:-1.2px;"><i class="kb">1</i><i class="kb">1</i></span>
<span class="t " style="left:278.52px;top:1082.91px;font-size:34.01px;line-height:34.01px;transform:scaleX(0.8589);color:#111;-webkit-text-stroke:0.45px #111;">Russia</span>
<span class="t v" style="left:623.97px;top:1083.89px;font-size:34.16px;line-height:34.16px;transform:scaleX(0.8340);color:#0a0a0a;-webkit-text-stroke:0.7px #0a0a0a;">$<i class="k">1</i>.9T</span>
<span class="t v" style="left:1003.82px;top:1083.89px;font-size:34.16px;line-height:34.16px;transform:scaleX(0.8340);color:#0a0a0a;-webkit-text-stroke:0.7px #0a0a0a;">$2.2T</span>
<span class="t " style="left:109.32px;top:1152.76px;font-size:28.63px;line-height:28.63px;transform:scaleX(0.8300);color:#fff;font-weight:bold;letter-spacing:-1.2px;"><i class="kb">1</i>2</span>
<span class="t " style="left:279.88px;top:1149.01px;font-size:34.01px;line-height:34.01px;transform:scaleX(0.8670);color:#111;-webkit-text-stroke:0.45px #111;">South Korea</span>
<span class="t v" style="left:623.97px;top:1149.99px;font-size:34.16px;line-height:34.16px;transform:scaleX(0.8340);color:#0a0a0a;-webkit-text-stroke:0.7px #0a0a0a;">$<i class="k">1</i>.5T</span>
<span class="t v" style="left:1003.82px;top:1149.99px;font-size:34.16px;line-height:34.16px;transform:scaleX(0.8340);color:#0a0a0a;-webkit-text-stroke:0.7px #0a0a0a;">$2.0T</span>
<span class="t " style="left:109.32px;top:1218.86px;font-size:28.63px;line-height:28.63px;transform:scaleX(0.8300);color:#fff;font-weight:bold;letter-spacing:-1.2px;"><i class="kb">1</i>3</span>
<span class="t " style="left:280.80px;top:1215.11px;font-size:34.01px;line-height:34.01px;transform:scaleX(0.8842);color:#111;-webkit-text-stroke:0.45px #111;">Australia</span>
<span class="t v" style="left:623.97px;top:1216.09px;font-size:34.16px;line-height:34.16px;transform:scaleX(0.8340);color:#0a0a0a;-webkit-text-stroke:0.7px #0a0a0a;">$<i class="k">1</i>.5T</span>
<span class="t v" style="left:1006.47px;top:1216.09px;font-size:34.16px;line-height:34.16px;transform:scaleX(0.8340);color:#0a0a0a;-webkit-text-stroke:0.7px #0a0a0a;">$<i class="k">1</i>.9T</span>
<span class="t " style="left:108.95px;top:1284.96px;font-size:28.63px;line-height:28.63px;transform:scaleX(0.8300);color:#fff;font-weight:bold;letter-spacing:-1.2px;"><i class="kb">1</i>4</span>
<span class="t " style="left:279.87px;top:1281.21px;font-size:34.01px;line-height:34.01px;transform:scaleX(0.8772);color:#111;-webkit-text-stroke:0.45px #111;">Spain</span>
<span class="t v" style="left:623.97px;top:1282.19px;font-size:34.16px;line-height:34.16px;transform:scaleX(0.8340);color:#0a0a0a;-webkit-text-stroke:0.7px #0a0a0a;">$<i class="k">1</i>.5T</span>
<span class="t v" style="left:1006.47px;top:1282.19px;font-size:34.16px;line-height:34.16px;transform:scaleX(0.8340);color:#0a0a0a;-webkit-text-stroke:0.7px #0a0a0a;">$<i class="k">1</i>.8T</span>
<span class="t " style="left:109.32px;top:1351.06px;font-size:28.63px;line-height:28.63px;transform:scaleX(0.8300);color:#fff;font-weight:bold;letter-spacing:-1.2px;"><i class="kb">1</i>5</span>
<span class="t " style="left:278.45px;top:1347.31px;font-size:34.01px;line-height:34.01px;transform:scaleX(0.8843);color:#111;-webkit-text-stroke:0.45px #111;">Mexico</span>
<span class="t v" style="left:623.97px;top:1348.29px;font-size:34.16px;line-height:34.16px;transform:scaleX(0.8340);color:#0a0a0a;-webkit-text-stroke:0.7px #0a0a0a;">$<i class="k">1</i>.6T</span>
<span class="t v" style="left:1006.47px;top:1348.29px;font-size:34.16px;line-height:34.16px;transform:scaleX(0.8340);color:#0a0a0a;-webkit-text-stroke:0.7px #0a0a0a;">$<i class="k">1</i>.8T</span>
<span class="t " style="left:109.32px;top:1417.16px;font-size:28.63px;line-height:28.63px;transform:scaleX(0.8300);color:#fff;font-weight:bold;letter-spacing:-1.2px;"><i class="kb">1</i>6</span>
<span class="t " style="left:278.43px;top:1413.41px;font-size:34.01px;line-height:34.01px;transform:scaleX(0.8906);color:#111;-webkit-text-stroke:0.45px #111;">Indonesia</span>
<span class="t v" style="left:616.91px;top:1414.39px;font-size:34.16px;line-height:34.16px;transform:scaleX(0.8340);color:#0a0a0a;-webkit-text-stroke:0.7px #0a0a0a;">$990B</span>
<span class="t v" style="left:1006.47px;top:1414.39px;font-size:34.16px;line-height:34.16px;transform:scaleX(0.8340);color:#0a0a0a;-webkit-text-stroke:0.7px #0a0a0a;">$<i class="k">1</i>.5T</span>
<span class="t " style="left:109.50px;top:1483.26px;font-size:28.63px;line-height:28.63px;transform:scaleX(0.8300);color:#fff;font-weight:bold;letter-spacing:-1.2px;"><i class="kb">1</i>7</span>
<span class="t " style="left:280.32px;top:1479.51px;font-size:34.01px;line-height:34.01px;transform:scaleX(0.8960);color:#111;-webkit-text-stroke:0.45px #111;">Türkiye</span>
<span class="t v" style="left:619.56px;top:1480.49px;font-size:34.16px;line-height:34.16px;transform:scaleX(0.8340);color:#0a0a0a;-webkit-text-stroke:0.7px #0a0a0a;">$9<i class="k">1</i>8B</span>
<span class="t v" style="left:1006.47px;top:1480.49px;font-size:34.16px;line-height:34.16px;transform:scaleX(0.8340);color:#0a0a0a;-webkit-text-stroke:0.7px #0a0a0a;">$<i class="k">1</i>.5T</span>
<span class="t " style="left:109.32px;top:1549.36px;font-size:28.63px;line-height:28.63px;transform:scaleX(0.8300);color:#fff;font-weight:bold;letter-spacing:-1.2px;"><i class="kb">1</i>8</span>
<span class="t " style="left:278.39px;top:1545.61px;font-size:34.01px;line-height:34.01px;transform:scaleX(0.9083);color:#111;-webkit-text-stroke:0.45px #111;">Netherlands</span>
<span class="t v" style="left:626.62px;top:1546.59px;font-size:34.16px;line-height:34.16px;transform:scaleX(0.8340);color:#0a0a0a;-webkit-text-stroke:0.7px #0a0a0a;">$<i class="k">1</i>.<i class="k">1</i>T</span>
<span class="t v" style="left:1006.47px;top:1546.59px;font-size:34.16px;line-height:34.16px;transform:scaleX(0.8340);color:#0a0a0a;-webkit-text-stroke:0.7px #0a0a0a;">$<i class="k">1</i>.3T</span>
<span class="t " style="left:109.32px;top:1615.46px;font-size:28.63px;line-height:28.63px;transform:scaleX(0.8300);color:#fff;font-weight:bold;letter-spacing:-1.2px;"><i class="kb">1</i>9</span>
<span class="t " style="left:279.89px;top:1611.71px;font-size:34.01px;line-height:34.01px;transform:scaleX(0.8597);color:#111;-webkit-text-stroke:0.45px #111;">Saudi Arabia</span>
<span class="t v" style="left:616.91px;top:1612.69px;font-size:34.16px;line-height:34.16px;transform:scaleX(0.8340);color:#0a0a0a;-webkit-text-stroke:0.7px #0a0a0a;">$925B</span>
<span class="t v" style="left:1009.12px;top:1612.69px;font-size:34.16px;line-height:34.16px;transform:scaleX(0.8340);color:#0a0a0a;-webkit-text-stroke:0.7px #0a0a0a;">$<i class="k">1</i>.<i class="k">1</i>T</span>
<span class="t " style="left:108.59px;top:1681.56px;font-size:28.63px;line-height:28.63px;transform:scaleX(0.8300);color:#fff;font-weight:bold;letter-spacing:-1.2px;">20</span>
<span class="t " style="left:279.84px;top:1677.81px;font-size:34.01px;line-height:34.01px;transform:scaleX(0.9020);color:#111;-webkit-text-stroke:0.45px #111;">Switzerland</span>
<span class="t v" style="left:619.56px;top:1678.79px;font-size:34.16px;line-height:34.16px;transform:scaleX(0.8340);color:#0a0a0a;-webkit-text-stroke:0.7px #0a0a0a;">$84<i class="k">1</i>B</span>
<span class="t v" style="left:1006.47px;top:1678.79px;font-size:34.16px;line-height:34.16px;transform:scaleX(0.8340);color:#0a0a0a;-webkit-text-stroke:0.7px #0a0a0a;">$<i class="k">1</i>.0T</span>
<span class="t " style="left:280.80px;top:1743.91px;font-size:34.01px;line-height:34.01px;transform:scaleX(0.8796);color:#111;-webkit-text-stroke:0.45px #111;">World</span>
<span class="t v" style="left:613.40px;top:1744.89px;font-size:34.16px;line-height:34.16px;transform:scaleX(0.8340);color:#0a0a0a;-webkit-text-stroke:0.7px #0a0a0a;">$85.2T</span>
<span class="t v" style="left:994.33px;top:1744.89px;font-size:34.16px;line-height:34.16px;transform:scaleX(0.8340);color:#0a0a0a;-webkit-text-stroke:0.7px #0a0a0a;">$<i class="k">1</i><i class="k">1</i>5.3T</span>
<span class="t " style="left:1302.28px;top:421.66px;font-size:30.52px;line-height:30.52px;transform:scaleX(0.8902);color:#111;-webkit-text-stroke:1.0px #111;">28%</span>
<span class="t " style="left:1302.64px;top:497.56px;font-size:30.52px;line-height:30.52px;transform:scaleX(0.8783);color:#111;-webkit-text-stroke:1.0px #111;">74%</span>
<span class="t " style="left:1307.46px;top:564.76px;font-size:30.52px;line-height:30.52px;transform:scaleX(0.8190);color:#111;-webkit-text-stroke:1.0px #111;"><i class="k">1</i>0%</span>
<span class="t " style="left:1311.11px;top:617.56px;font-size:30.52px;line-height:30.52px;transform:scaleX(0.8330);color:#111;-webkit-text-stroke:1.0px #111;">6%</span>
<span class="t " style="left:1304.32px;top:691.66px;font-size:30.52px;line-height:30.52px;transform:scaleX(0.8238);color:#111;-webkit-text-stroke:1.0px #111;">77%</span>
<span class="t " style="left:1307.07px;top:756.16px;font-size:30.52px;line-height:30.52px;transform:scaleX(0.8336);color:#111;-webkit-text-stroke:1.0px #111;"><i class="k">1</i>4%</span>
<span class="t " style="left:1307.76px;top:822.36px;font-size:30.52px;line-height:30.52px;transform:scaleX(0.8080);color:#111;-webkit-text-stroke:1.0px #111;"><i class="k">1</i>2%</span>
<span class="t " style="left:1309.18px;top:888.46px;font-size:30.52px;line-height:30.52px;transform:scaleX(0.8854);color:#111;-webkit-text-stroke:1.0px #111;"><i class="k">1</i><i class="k">1</i>%</span>
<span class="t " style="left:1307.66px;top:954.86px;font-size:30.52px;line-height:30.52px;transform:scaleX(0.8117);color:#111;-webkit-text-stroke:1.0px #111;"><i class="k">1</i>7%</span>
<span class="t " style="left:1310.63px;top:1020.66px;font-size:30.52px;line-height:30.52px;transform:scaleX(0.8639);color:#111;-webkit-text-stroke:1.0px #111;">8%</span>
<span class="t " style="left:1307.66px;top:1086.36px;font-size:30.52px;line-height:30.52px;transform:scaleX(0.8117);color:#111;-webkit-text-stroke:1.0px #111;"><i class="k">1</i>5%</span>
<span class="t " style="left:1302.85px;top:1151.46px;font-size:30.52px;line-height:30.52px;transform:scaleX(0.8715);color:#111;-webkit-text-stroke:1.0px #111;">29%</span>
<span class="t " style="left:1302.85px;top:1219.66px;font-size:30.52px;line-height:30.52px;transform:scaleX(0.8715);color:#111;-webkit-text-stroke:1.0px #111;">25%</span>
<span class="t " style="left:1302.85px;top:1285.66px;font-size:30.52px;line-height:30.52px;transform:scaleX(0.8715);color:#111;-webkit-text-stroke:1.0px #111;">23%</span>
<span class="t " style="left:1306.62px;top:1351.16px;font-size:30.52px;line-height:30.52px;transform:scaleX(0.8500);color:#111;-webkit-text-stroke:1.0px #111;"><i class="k">1</i>4%</span>
<span class="t " style="left:1305.93px;top:1411.16px;font-size:30.52px;line-height:30.52px;transform:scaleX(0.8571);color:#111;-webkit-text-stroke:1.0px #111;">5<i class="k">1</i>%</span>
<span class="t " style="left:1303.07px;top:1487.46px;font-size:30.52px;line-height:30.52px;transform:scaleX(0.8712);color:#111;-webkit-text-stroke:1.0px #111;">59%</span>
<span class="t " style="left:1305.51px;top:1548.96px;font-size:30.52px;line-height:30.52px;transform:scaleX(0.8648);color:#111;-webkit-text-stroke:1.0px #111;">2<i class="k">1</i>%</span>
<span class="t " style="left:1302.64px;top:1614.96px;font-size:30.52px;line-height:30.52px;transform:scaleX(0.8783);color:#111;-webkit-text-stroke:1.0px #111;">23%</span>
<span class="t " style="left:1307.16px;top:1681.76px;font-size:30.52px;line-height:30.52px;transform:scaleX(0.8299);color:#111;-webkit-text-stroke:1.0px #111;"><i class="k">1</i>9%</span>
<span class="t " style="left:1303.28px;top:1747.46px;font-size:30.52px;line-height:30.52px;transform:scaleX(0.8645);color:#111;-webkit-text-stroke:1.0px #111;">35%</span>
<span class="t " style="left:87.00px;top:1818.54px;font-size:21.22px;line-height:21.22px;transform:scaleX(0.8800);color:#111;">Figures rounded. Data last updated February, 2025. Source: International Monetary Fund</span>
<svg class="abs" style="left:0;top:0" width="1500" height="300" viewBox="0 0 1500 300"><path transform="translate(372.6 127.5)" d="M0 0H41.4V12.4H27.799999999999997V86.4H13.6V12.4H0Z" fill="#060606" fill-rule="evenodd"/><path transform="translate(419 127.5)" d="M0 20.9A20.8 21.5 0 0 1 41.6 20.9V65.5A20.8 21.5 0 0 1 0 65.5ZM14.2 20.9V65.5A6.600000000000001 8.5 0 0 0 27.400000000000002 65.5V20.9A6.600000000000001 8.5 0 0 0 14.2 20.9Z" fill="#060606" fill-rule="evenodd"/><path transform="translate(468 127.5)" d="M0 0H22A19 19 0 0 1 41 19V35.2A19 19 0 0 1 22 54.2H14.2V86.4H0ZM14.2 12.4V41.800000000000004H19.3A7 8 0 0 0 26.3 33.800000000000004V20.4A7 8 0 0 0 19.3 12.4Z" fill="#060606" fill-rule="evenodd"/><path transform="translate(533 127.5)" d="M0 0H37V12.4H14.2V36.2H32V48.6H14.2V74.0H37V86.4H0Z" fill="#060606" fill-rule="evenodd"/><path transform="translate(576.6 127.5)" d="M41.4 30.5V20.9A20.7 21.5 0 0 0 0 20.9V65.5A20.7 21.5 0 0 0 41.4 65.5V55.5H27.2V65.5A6.5 8.5 0 0 1 14.2 65.5V20.9A6.5 8.5 0 0 1 27.2 20.9V30.5Z" fill="#060606" fill-rule="evenodd"/><path transform="translate(624.5 127.5)" d="M0 20.9A20.75 21.5 0 0 1 41.5 20.9V65.5A20.75 21.5 0 0 1 0 65.5ZM14.2 20.9V65.5A6.550000000000001 8.5 0 0 0 27.3 65.5V20.9A6.550000000000001 8.5 0 0 0 14.2 20.9Z" fill="#060606" fill-rule="evenodd"/><path transform="translate(673 127.5)" d="M0 0H15.5L29.8 52V0H44V86.4H28.5L14.2 34V86.4H0Z" fill="#060606" fill-rule="evenodd"/><path transform="translate(723.6 127.5)" d="M0 20.9A21.0 21.5 0 0 1 42.0 20.9V65.5A21.0 21.5 0 0 1 0 65.5ZM14.2 20.9V65.5A6.800000000000001 8.5 0 0 0 27.8 65.5V20.9A6.800000000000001 8.5 0 0 0 14.2 20.9Z" fill="#060606" fill-rule="evenodd"/><path transform="translate(773 127.5)" d="M0 0H17L29.0 58L41 0H58V86.4H45.0V30L34.2 86.4H23.8L13.0 30V86.4H0Z" fill="#060606" fill-rule="evenodd"/><path transform="translate(840 127.5)" d="M0 0H14.4V86.4H0Z" fill="#060606" fill-rule="evenodd"/><path transform="translate(863 127.5)" d="M0 0H37.5V12.4H14.2V36.2H32.5V48.6H14.2V74.0H37.5V86.4H0Z" fill="#060606" fill-rule="evenodd"/><path transform="translate(906 127.5)" d="M34.6 30V20.9A13.85 14.6 0 0 0 6.9 20.9V25C6.9 44 34.6 43 34.6 63V65.5A13.85 14.6 0 0 1 6.9 65.5V56" fill="none" stroke="#060606" stroke-width="13.8"/></svg>
<svg class="abs" style="left:0;top:0" width="420" height="330" viewBox="0 0 420 330"><defs>
<radialGradient id="gl" cx="0.55" cy="0.1" r="0.95"><stop offset="0" stop-color="#34ECEA"/><stop offset="0.5" stop-color="#12E4E4"/><stop offset="0.8" stop-color="#13D2E0"/><stop offset="1" stop-color="#1AA4D2"/></radialGradient>
<linearGradient id="lg1" x1="0" y1="1" x2="1" y2="0"><stop offset="0" stop-color="#F2E21A"/><stop offset="0.45" stop-color="#D8E424"/><stop offset="1" stop-color="#86E038"/></linearGradient>
<linearGradient id="lg2" x1="0" y1="0" x2="1" y2="0.4"><stop offset="0" stop-color="#F2E21A"/><stop offset="0.5" stop-color="#CCE428"/><stop offset="1" stop-color="#86E038"/></linearGradient>
<linearGradient id="land" x1="0" y1="0" x2="1" y2="0.6"><stop offset="0" stop-color="#7CDC3C"/><stop offset="0.5" stop-color="#ECE414"/><stop offset="1" stop-color="#B8E028"/></linearGradient>
<pattern id="ht" width="2.2" height="2.2" patternUnits="userSpaceOnUse" patternTransform="rotate(45)"><rect width="2.2" height="2.2" fill="#EDC090"/><circle cx="1.1" cy="1.1" r="0.82" fill="#4a3a30"/></pattern>
<pattern id="ht2" width="2.4" height="2.4" patternUnits="userSpaceOnUse" patternTransform="rotate(45)"><circle cx="1.2" cy="1.2" r="0.7" fill="#1468B0"/></pattern>
<radialGradient id="shade" cx="0.6" cy="0.05" r="1.0"><stop offset="0.6" stop-color="#fff" stop-opacity="0"/><stop offset="1" stop-color="#fff" stop-opacity="0.75"/></radialGradient>
<mask id="shm"><rect x="150" y="200" width="240" height="130" fill="url(#shade)"/></mask>
<clipPath id="hemi"><path d="M174.7 226.8A88.2 83.8 0 0 0 351.1 226.8Z"/></clipPath>
</defs><path d="M174.7 226.8A88.2 83.8 0 0 0 351.1 226.8Z" fill="url(#gl)"/><g clip-path="url(#hemi)"><rect x="150" y="200" width="240" height="130" fill="url(#ht2)" mask="url(#shm)"/><ellipse cx="251" cy="243" rx="21" ry="15" fill="#B4F2EE" opacity="0.9"/><polygon points="190.1,242.0 192.9,236.4 200.6,237.1 213.2,240.6 220.2,240.6 227.2,244.8 228.6,248.3 225.8,255.3 221.6,261.6 218.8,268.6 213.9,274.2 211.8,281.2 209.0,289.6 205.5,285.4 202.0,272.8 197.8,261.6 194.3,254.6 190.8,247.6" fill="url(#land)" stroke="#245a1c" stroke-width="0.9" stroke-linejoin="round"/><polygon points="265.7,239.2 294.4,239.2 292.3,247.6 291.6,254.6 288.1,260.2 284.6,265.8 279.7,271.4 273.4,273.5 271.3,265.8 269.2,254.6 267.1,246.2" fill="url(#land)" stroke="#245a1c" stroke-width="0.9" stroke-linejoin="round"/><polygon points="337.8,234.3 343.4,232.9 346.2,242.0 343.4,243.4 339.9,237.8" fill="url(#land)" stroke="#245a1c" stroke-width="0.9" stroke-linejoin="round"/></g><path d="M174.7 226.8A88.2 83.8 0 0 0 351.1 226.8Z" fill="none" stroke="#10202c" stroke-width="1.6"/><ellipse cx="262.9" cy="226.8" rx="88.2" ry="11.8" fill="url(#ht)" stroke="#1a1a1a" stroke-width="1.3"/><ellipse cx="262.5" cy="222.2" rx="48.5" ry="5.6" fill="#3a1a1c"/><path d="M247.5 121V128.5Q245.5 129.5 245.5 132.5Q245.5 135.5 248 136.5Q245 140 240 143.5Q225.1 152 225.1 164V214Q225.1 225.4 238 225.4H288Q301 225.4 301 214V164Q301 152 286 143.5Q281.5 140 279.8 136.5Q281.5 135.5 281.5 132.5Q281.5 129.5 280 128.5V121Z" fill="#FFE4D0" fill-opacity="0.28"/><g transform="rotate(5 245.1 213.6)"><ellipse cx="245.1" cy="216.6" rx="13.0" ry="5.4" fill="#DC4420" stroke="#D84018" stroke-width="0.5"/><ellipse cx="245.1" cy="213.6" rx="13.0" ry="5.4" fill="#F8CDA2" stroke="#D84018" stroke-width="0.9"/></g><g transform="rotate(0 286.7 212.3)"><ellipse cx="286.7" cy="215.3" rx="8.7" ry="6.9" fill="#F0C0B0" stroke="#EDB6A4" stroke-width="0.5"/><ellipse cx="286.7" cy="212.3" rx="8.7" ry="6.9" fill="#F6DCCB" stroke="#EDB6A4" stroke-width="0.9"/></g><g transform="rotate(8 264.6 216.2)"><ellipse cx="264.6" cy="219.2" rx="14.7" ry="5.4" fill="#DC4420" stroke="#D84018" stroke-width="0.5"/><ellipse cx="264.6" cy="216.2" rx="14.7" ry="5.4" fill="#F8CDA2" stroke="#D84018" stroke-width="0.9"/><text x="264.6" y="219.5" font-family="Liberation Sans, sans-serif" font-weight="bold" font-size="9.1" text-anchor="middle" fill="#D84018">$</text></g><g transform="rotate(0 283.2 195.4)"><ellipse cx="283.2" cy="198.4" rx="10.8" ry="11.7" fill="#F0C0B0" stroke="#EDB6A4" stroke-width="0.5"/><ellipse cx="283.2" cy="195.4" rx="10.8" ry="11.7" fill="#F6DCCB" stroke="#EDB6A4" stroke-width="0.9"/><text x="283.2" y="202.0" font-family="Liberation Sans, sans-serif" font-weight="bold" font-size="18.4" text-anchor="middle" fill="#EDB6A4">$</text></g><g transform="rotate(10 275.4 178.5)"><ellipse cx="275.4" cy="181.5" rx="11.3" ry="6.8" fill="#DC4420" stroke="#D84018" stroke-width="0.5"/><ellipse cx="275.4" cy="178.5" rx="11.3" ry="6.8" fill="#F8CDA2" stroke="#D84018" stroke-width="0.9"/><text x="275.4" y="182.6" font-family="Liberation Sans, sans-serif" font-weight="bold" font-size="11.5" text-anchor="middle" fill="#D84018">$</text></g><g transform="rotate(8 263.7 205.3)"><ellipse cx="263.7" cy="208.3" rx="16.0" ry="6.5" fill="#DC4420" stroke="#D84018" stroke-width="0.5"/><ellipse cx="263.7" cy="205.3" rx="16.0" ry="6.5" fill="#F8CDA2" stroke="#D84018" stroke-width="0.9"/><text x="263.7" y="209.3" font-family="Liberation Sans, sans-serif" font-weight="bold" font-size="11.1" text-anchor="middle" fill="#D84018">$</text></g><g transform="rotate(-18 237.7 195.4)"><ellipse cx="237.7" cy="198.4" rx="10.2" ry="13.0" fill="#DC4420" stroke="#D84018" stroke-width="0.5"/><ellipse cx="237.7" cy="195.4" rx="10.2" ry="13.0" fill="#F8CDA2" stroke="#D84018" stroke-width="0.9"/><text x="237.7" y="201.6" font-family="Liberation Sans, sans-serif" font-weight="bold" font-size="17.4" text-anchor="middle" fill="#D84018">$</text></g><path d="M261.7 175.9C259.8 155.1 262.0 131.7 263.7 115.2" fill="none" stroke="#5a3410" stroke-width="3.6"/><path d="M261.7 175.9C259.8 155.1 262.0 131.7 263.7 115.2" fill="none" stroke="#C4DC22" stroke-width="2"/><g transform="rotate(-10 255.9 184.1)"><ellipse cx="255.9" cy="187.1" rx="14.9" ry="9.1" fill="#DC4420" stroke="#D84018" stroke-width="0.5"/><ellipse cx="255.9" cy="184.1" rx="14.9" ry="9.1" fill="#F8CDA2" stroke="#D84018" stroke-width="0.9"/><text x="255.9" y="189.7" font-family="Liberation Sans, sans-serif" font-weight="bold" font-size="15.5" text-anchor="middle" fill="#D84018">$</text></g><path d="M280 142Q296.5 152 296.5 165V214Q296.5 221 289 222H281.5Q279.5 180 280 142Z" fill="#FBE6DC" opacity="0.4"/><path d="M247.5 121V128.5Q245.5 129.5 245.5 132.5Q245.5 135.5 248 136.5Q245 140 240 143.5Q225.1 152 225.1 164V214Q225.1 225.4 238 225.4H288Q301 225.4 301 214V164Q301 152 286 143.5Q281.5 140 279.8 136.5Q281.5 135.5 281.5 132.5Q281.5 129.5 280 128.5V121" fill="none" stroke="#4a2a1a" stroke-width="1.1"/><ellipse cx="263.7" cy="121.3" rx="16.2" ry="4" fill="#F8D4B4" fill-opacity="0.6" stroke="#7a3a20" stroke-width="1.2"/><path d="M245.8 130.5Q263.7 136.5 281.2 130.5M248 136.5Q263.7 141.5 279.8 136.5" fill="none" stroke="#4a2a1a" stroke-width="0.9"/><path d="M263.5 125.0Q265.0 105.0 260.0 88.0Q254.0 78.0 249.2 73.3" fill="none" stroke="#5a3410" stroke-width="3.6"/><path d="M263.5 125.0Q265.0 105.0 260.0 88.0Q254.0 78.0 249.2 73.3" fill="none" stroke="#C4DC22" stroke-width="2"/><path d="M265.2 107.0Q266.7 98.8 272.2 94.8" fill="none" stroke="#5a3410" stroke-width="3"/><path d="M265.2 107.0Q266.7 98.8 272.2 94.8" fill="none" stroke="#C4DC22" stroke-width="1.5"/><path d="M249.2 73.8Q264.9 62.4 276.0 46.5Q251.0 48.8 249.2 73.8Z" fill="url(#lg1)" stroke="#5a3410" stroke-width="1.1" stroke-linejoin="round"/><path d="M249.2 73.8Q258.0 55.6 276.0 46.5" fill="none" stroke="#5a3410" stroke-width="0.9"/><path d="M248.5 74.0Q241.6 51.7 219.5 59.0Q231.0 72.4 248.5 74.0Z" fill="url(#lg2)" stroke="#5a3410" stroke-width="1.1" stroke-linejoin="round"/><path d="M248.5 74.0Q236.3 62.1 219.5 59.0" fill="none" stroke="#5a3410" stroke-width="0.9"/><path d="M252.2 81.8Q237.0 75.5 222.5 83.2Q238.0 95.5 252.2 81.8Z" fill="url(#lg2)" stroke="#5a3410" stroke-width="1.1" stroke-linejoin="round"/><path d="M252.2 81.8Q237.5 85.5 222.5 83.2" fill="none" stroke="#5a3410" stroke-width="0.9"/><path d="M272.0 95.2Q302.9 95.2 320.0 69.5Q284.4 60.7 272.0 95.2Z" fill="url(#lg1)" stroke="#5a3410" stroke-width="1.1" stroke-linejoin="round"/><path d="M272.0 95.2Q293.6 77.9 320.0 69.5" fill="none" stroke="#5a3410" stroke-width="0.9"/><path d="M262.2 115.0Q232.3 94.3 215.5 126.5Q238.4 119.0 262.2 115.0Z" fill="url(#lg2)" stroke="#5a3410" stroke-width="1.1" stroke-linejoin="round"/><path d="M262.2 115.0Q235.4 106.7 215.5 126.5" fill="none" stroke="#5a3410" stroke-width="0.9"/><polygon points="205.6,131.9 207.0,142.0 217.1,143.4 207.0,144.8 205.6,154.9 204.2,144.8 194.1,143.4 204.2,142.0" fill="#FFF6EC"/><polygon points="322.2,137.2 322.9,142.7 328.4,143.4 322.9,144.1 322.2,149.6 321.5,144.1 316.0,143.4 321.5,142.7" fill="#FFF6EC"/><polygon points="276.5,58.1 277.1,62.9 281.9,63.5 277.1,64.1 276.5,68.9 275.9,64.1 271.1,63.5 275.9,62.9" fill="#FFF6EC"/><polygon points="210.5,98.8 211.0,102.5 214.7,103.0 211.0,103.5 210.5,107.2 210.0,103.5 206.3,103.0 210.0,102.5" fill="#FFF6EC"/></svg>
<svg class="abs" style="left:1375px;top:35px" width="105" height="80" viewBox="0 0 1500 1143"><defs><mask id="lm"><rect x="0" y="0" width="1500" height="1143" fill="#fff"/><circle cx="486" cy="667" r="279" fill="#000"/><circle cx="974" cy="667" r="279" fill="#000"/></mask></defs><g mask="url(#lm)" fill="#050505"><circle cx="470" cy="665" r="320"/><circle cx="990" cy="665" r="320"/><path d="M232 450L455 180Q560 95 665 165L730 200L795 165Q900 95 1005 180L1228 450L1100 700H360Z"/></g><g fill="#050505"><ellipse cx="712" cy="712" rx="287" ry="186"/><path d="M835 575L905 512Q918 508 918 525L935 640Z"/><path d="M960 650Q1010 690 1030 715Q1075 690 1100 720Q1125 790 1085 845Q1040 870 1010 885L960 930Z"/><path d="M440 760Q440 900 500 950Q600 975 705 880L712 860Z"/><path d="M1000 760Q1000 900 960 950Q860 975 755 880L712 860Z"/></g><path d="M655 578Q720 552 790 574" stroke="#B8D470" stroke-width="9" fill="none"/><path d="M400 735Q345 720 350 760Q400 770 395 800Q360 815 335 790" stroke="#111" stroke-width="13" fill="none"/></svg>
</body></html>
